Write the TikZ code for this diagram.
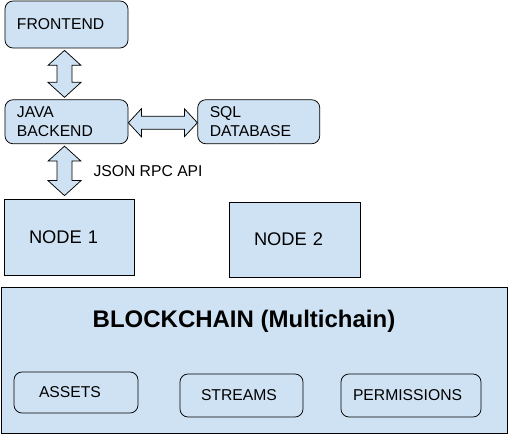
\documentclass[tikz,border=0pt]{standalone}
\usepackage{fontspec}
\setmainfont{Liberation Sans}
\usetikzlibrary{positioning}
\usetikzlibrary{calc}
\definecolor{paleblue}{HTML}{CFE2F3}
\newcommand{\smalltext}{\fontsize{15.7bp}{19bp}\selectfont}
\newcommand{\nodetext}{\fontsize{18.3bp}{22bp}\selectfont}
\newcommand{\titletext}{\fontsize{24bp}{28bp}\selectfont\bfseries}
% block arrows, from tip to tip
\newcommand{\vblock}[2]{%
  \draw [blockarrow] (#1) -- ($(#1)+(16.5,15)$) -- ($(#1)+(7.5,15)$)
    -- ($(#2)+(7.5,-15)$) -- ($(#2)+(16.5,-15)$) -- (#2)
    -- ($(#2)+(-16.5,-15)$) -- ($(#2)+(-7.5,-15)$)
    -- ($(#1)+(-7.5,15)$) -- ($(#1)+(-16.5,15)$) -- cycle;}
\newcommand{\hblock}[2]{%
  \draw [blockarrow] (#1) -- ($(#1)+(13,-14)$) -- ($(#1)+(13,-6.5)$)
    -- ($(#2)+(-13,-6.5)$) -- ($(#2)+(-13,-14)$) -- (#2)
    -- ($(#2)+(-13,14)$) -- ($(#2)+(-13,6.5)$)
    -- ($(#1)+(13,6.5)$) -- ($(#1)+(13,14)$) -- cycle;}

\begin{document}
\begin{tikzpicture}
    [
    x=1bp, y=-1bp,
    topbox/.style={draw, fill=paleblue, line width=0.75bp, rounded corners=8bp,
      inner xsep=12bp, inner ysep=0pt, align=left, font=\smalltext},
    chainnode/.style={draw, fill=paleblue, line width=0.75bp,
      inner xsep=25bp, inner ysep=0pt, align=left, font=\nodetext},
    part/.style={draw, line width=0.75bp, rounded corners=8bp,
      inner ysep=0pt, align=left, font=\smalltext},
    blockarrow/.style={draw, fill=paleblue, line width=0.75bp, line join=miter}
    ]
    \useasboundingbox (0,0) rectangle (508,434);

    \node (front) at (66.5,24.5) [topbox, text width=99bp, minimum height=47bp] {FRONTEND};
    \node (java) [topbox, text width=99bp, minimum height=44bp, below=51bp of front] {JAVA\\BACKEND};
    \node (sql) [topbox, text width=98bp, minimum height=44bp, right=69bp of java] {SQL\\DATABASE};

    \node (n1) at (69,237) [chainnode, text width=80bp, minimum height=76bp] {NODE 1};
    \node (n2) at (294.5,239.5) [chainnode, text width=81bp, minimum height=75bp] {NODE 2};

    \node (chain) at (254,360) [draw, fill=paleblue, line width=0.75bp,
      minimum width=506bp, minimum height=146bp] {};
    \node (title) at (244,327) [anchor=base, font=\titletext] {BLOCKCHAIN (Multichain)};
    \node (assets) at (76,392.5) [part, inner xsep=25bp, text width=74bp, minimum height=41bp] {ASSETS};
    \node (streams) at (241.5,395.5) [part, inner xsep=21bp, text width=81bp, minimum height=43bp] {STREAMS};
    \node (perms) at (411,395.5) [part, inner xsep=12bp, text width=116bp, minimum height=43bp] {PERMISSIONS};

    % tips of the block arrows
    \coordinate (frontdown) at ($(front.south)+(-2,2)$);
    \coordinate (javaup) at ($(java.north)+(-2,-2)$);
    \coordinate (javadown) at ($(java.south)+(-2,2)$);
    \coordinate (n1up) at ($(n1.north -| javadown)+(0,-3)$);
    \coordinate (javaright) at ($(java.east)+(0,1)$);
    \coordinate (sqlleft) at ($(sql.west)+(0,1)$);
    \vblock{frontdown}{javaup}
    \hblock{javaright}{sqlleft}
    \vblock{javadown}{n1up}
    \node (rpc) [anchor=base west, font=\smalltext] at (90,177) {JSON RPC API};
\end{tikzpicture}
\end{document}
